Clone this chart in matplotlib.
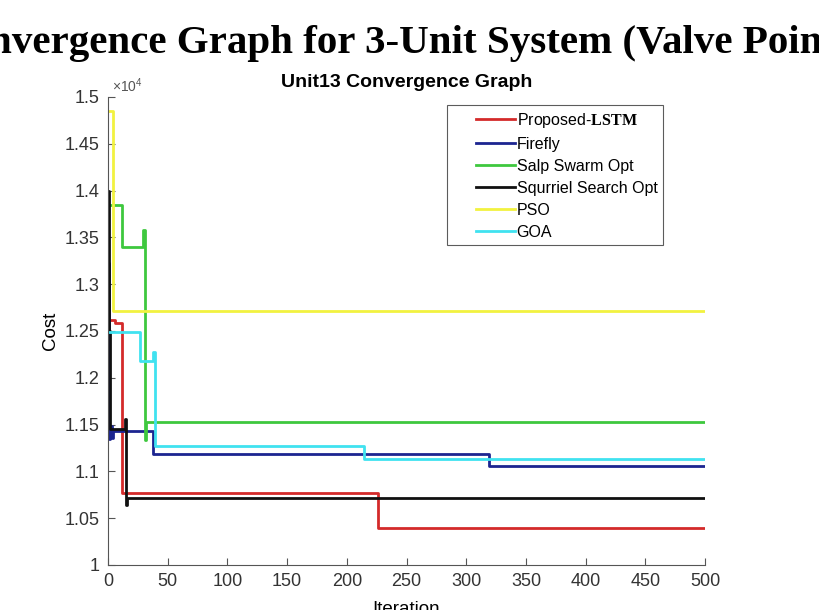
import matplotlib.pyplot as plt
from matplotlib.ticker import FuncFormatter, MultipleLocator
from matplotlib.legend_handler import HandlerLine2D
import numpy as np

plt.rcParams['font.family'] = ['Liberation Sans', 'DejaVu Sans']
plt.rcParams['mathtext.fontset'] = 'custom'
plt.rcParams['mathtext.rm'] = 'Liberation Sans'
plt.rcParams['mathtext.bf'] = 'Liberation Serif:bold'

# convergence curves (iteration breakpoints, cost)
lstm_it = [0, 1, 6, 11, 12, 226, 500]
lstm_cost = [12850, 12620, 12580, 12590, 10770, 10395, 10395]

firefly_it = [0, 1, 2, 3, 4, 38, 319, 500]
firefly_cost = [13230, 11350, 11480, 11360, 11430, 11190, 11060, 11060]

salp_it = [0, 12, 29, 31, 32, 500]
salp_cost = [13850, 13400, 13580, 11340, 11530, 11530]

squirrel_it = [0, 1, 2, 14, 15, 16, 500]
squirrel_cost = [14000, 12500, 11450, 11560, 10640, 10715, 10715]

pso_it = [0, 4, 500]
pso_cost = [14850, 12710, 12710]

goa_it = [0, 27, 38, 39, 214, 500]
goa_cost = [12490, 12180, 12280, 11270, 11130, 11130]

series = [
    ('Proposed-$\\mathbf{LSTM}$', lstm_it, lstm_cost, '#d42a2a'),
    ('Firefly', firefly_it, firefly_cost, '#1c2590'),
    ('Salp Swarm Opt', salp_it, salp_cost, '#3ec83e'),
    ('Squrriel Search Opt', squirrel_it, squirrel_cost, '#101010'),
    ('PSO', pso_it, pso_cost, '#f2f240'),
    ('GOA', goa_it, goa_cost, '#40e2f0'),
]


class ShiftedLine(HandlerLine2D):
    # matlab style legend: empty gap before the line sample
    def get_xdata(self, legend, xdescent, ydescent, width, height, fontsize):
        x = np.array([-xdescent + width * 0.37, width - xdescent])
        return x, x


fig = plt.figure(figsize=(8.2, 6.1), dpi=100)
ax = fig.add_axes([0.1317, 0.0738, 0.7281, 0.7672])

for name, it, cost, col in series:
    ax.plot(it, cost, drawstyle='steps-post', color=col, lw=2, label=name)

ax.set_xlim(0, 500)
ax.set_ylim(10000, 15000)
ax.xaxis.set_major_locator(MultipleLocator(50))
ax.yaxis.set_major_locator(MultipleLocator(500))
ax.yaxis.set_major_formatter(FuncFormatter(lambda v, p: f'{v / 1e4:g}'))
ax.spines['top'].set_visible(False)
ax.spines['right'].set_visible(False)
for s in ['left', 'bottom']:
    ax.spines[s].set_color('#555555')
ax.tick_params(direction='in', length=5, labelsize=13, colors='#555555',
               labelcolor='#333333', pad=6)

ax.text(0.007, 1.004, '$\\times 10^4$', transform=ax.transAxes, fontsize=10,
        color='#555555', va='bottom')
ax.set_title('Unit13 Convergence Graph', fontsize=14, fontweight='bold', pad=7)
ax.set_ylabel('Cost', fontsize=13.5, labelpad=4)
ax.set_xlabel('Iteration', fontsize=13.5, labelpad=8)

leg = ax.legend(loc='upper right', bbox_to_anchor=(0.9296, 0.983), fontsize=11.5,
                frameon=True, fancybox=False, edgecolor='#333333',
                handlelength=3.9, handletextpad=0.1, labelspacing=0.44,
                borderpad=0.35, borderaxespad=0,
                handler_map={plt.Line2D: ShiftedLine()})
leg.get_frame().set_linewidth(0.8)

fig.text(-0.074, 0.913, 'Convergence Graph for 3-Unit System (Valve Point Effect)',
         family='Liberation Serif', fontweight='bold', fontsize=29.5, ha='left')

fig.savefig('out.png', dpi=100)
